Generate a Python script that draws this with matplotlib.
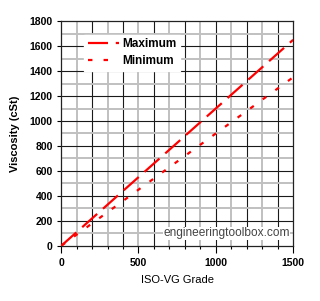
import numpy as np
import matplotlib
matplotlib.use("Agg")
import matplotlib.pyplot as plt
from matplotlib.ticker import MultipleLocator

plt.rcParams['font.family'] = ['Liberation Sans', 'DejaVu Sans']

# ISO viscosity grades and the allowed kinematic viscosity band (cSt at 40 C)
iso_grade = [2, 3, 5, 7, 10, 15, 22, 32, 46, 68, 100, 150, 220, 320, 460, 680, 1000, 1500]
visc_max = [2.42, 3.52, 5.06, 7.48, 11.0, 16.5, 24.2, 35.2, 50.6, 74.8, 110, 165, 242, 352, 506, 748, 1100, 1650]
visc_min = [1.98, 2.88, 4.14, 6.12, 9.0, 13.5, 19.8, 28.8, 41.4, 61.2, 90, 135, 198, 288, 414, 612, 900, 1350]

x_ticks = [0, 500, 1000, 1500]
y_ticks = list(range(0, 1801, 200))

fig = plt.figure(figsize=(3.2, 3.01), dpi=100)
ax = fig.add_axes([0.191, 0.183, 0.725, 0.747])

# grid every 100, alternating dark / light lines
for i, gx in enumerate(range(100, 1500, 100)):
    dark = (i % 2 == 1)
    ax.axvline(gx, color='#1a1a1a' if dark else '#c0c0c0', lw=0.8 if dark else 1.4, zorder=1)
for i, gy in enumerate(range(100, 1800, 100)):
    dark = (i % 2 == 1)
    ax.axhline(gy, color='#1a1a1a' if dark else '#c0c0c0', lw=0.8 if dark else 1.4, zorder=1)

ax.plot(iso_grade, visc_max, color='#ff0000', lw=1.6, dashes=(9, 3.5), label='Maximum', zorder=3)
ax.plot(iso_grade, visc_min, color='#ff0000', lw=1.6, dashes=(2, 5), label='Minimum', zorder=3)

ax.set_xlim(0, 1500)
ax.set_ylim(0, 1800)
ax.set_xticks(x_ticks)
ax.set_yticks(y_ticks)
ax.xaxis.set_minor_locator(MultipleLocator(100))
ax.tick_params(axis='x', which='major', length=5, width=0.8, pad=4, labelsize=7.5)
ax.tick_params(axis='x', which='minor', length=2.5, width=0.8)
ax.tick_params(axis='y', which='major', length=3, width=0.8, pad=3, labelsize=7.5)
for lab in ax.get_xticklabels() + ax.get_yticklabels():
    lab.set_fontweight('bold')
for s in ax.spines.values():
    s.set_linewidth(0.9)
    s.set_color('#222222')

ax.set_xlabel('ISO-VG Grade', fontsize=8, labelpad=5)
ax.set_ylabel('Viscosity (cSt)', fontsize=8, fontweight='bold', labelpad=7)

leg = ax.legend(loc='upper left', bbox_to_anchor=(0.1, 0.94), frameon=True, fancybox=False,
                framealpha=1, facecolor='white', edgecolor='white', fontsize=8.5,
                handlelength=2.6, handletextpad=0.3, borderpad=0.3, labelspacing=0.45,
                borderaxespad=0)
for t in leg.get_texts():
    t.set_fontweight('bold')
leg.set_zorder(5)

ax.text(1478, 100, 'engineeringtoolbox.com', ha='right', va='center', fontsize=8.6,
        color='#444444', zorder=6,
        bbox=dict(facecolor='white', edgecolor='none', pad=0.5))

fig.savefig('out.png', dpi=100)
